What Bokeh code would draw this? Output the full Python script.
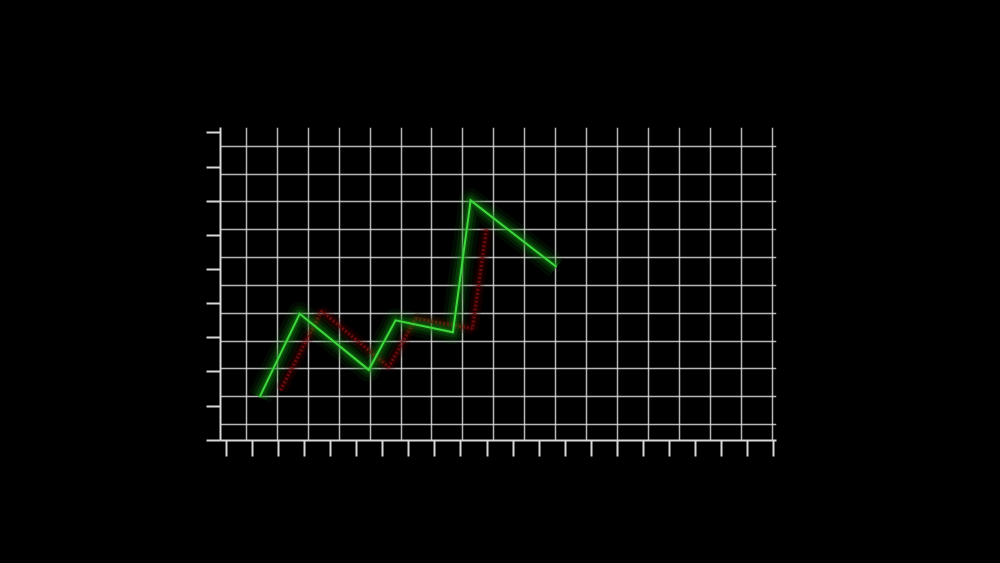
import numpy as np
from bokeh.plotting import figure
from bokeh.models import FixedTicker, Range1d, GlobalInlineStyleSheet
from bokeh.embed import file_html
from bokeh.resources import INLINE

# --- data (x in bottom-tick units, y in left-tick units) ---
green_x = [1.27, 2.81, 5.46, 6.49, 8.69, 9.37, 12.67]
green_y = [1.26, 3.70, 2.06, 3.51, 3.16, 7.02, 5.07]
red_x = [2.07, 3.65, 6.23, 7.26, 9.44, 9.98]
red_y = [1.46, 3.78, 2.14, 3.56, 3.27, 6.20]
x_ticks = list(range(0, 22))
y_ticks = list(range(0, 10))

# decorative grid (layout)
grid_x = list(np.linspace(0.756, 20.96, 18))
grid_y = list(np.linspace(8.609, 0.459, 11))

p = figure(width=984, height=547, output_backend="svg", toolbar_location=None,
           x_range=Range1d(-0.23, 21.11), y_range=Range1d(-0.009, 9.157),
           min_border_left=220, min_border_right=208, min_border_top=127,
           min_border_bottom=107, frame_width=556, frame_height=313)
p.stylesheets = [GlobalInlineStyleSheet(css="html, body { background: #000000; }")]
p.background_fill_color = "black"
p.border_fill_color = "black"
p.outline_line_color = None

# grid
p.xgrid.ticker = FixedTicker(ticks=grid_x)
p.ygrid.ticker = FixedTicker(ticks=grid_y)
p.xgrid.bounds = (0.08, 9.157)
p.ygrid.bounds = (0.05, 21.07)
for g in (p.xgrid, p.ygrid):
    g.grid_line_color = "#dedede"
    g.grid_line_width = 1.5
    g.grid_line_alpha = 0.82

# axes
p.xaxis.ticker = FixedTicker(ticks=x_ticks)
p.yaxis.ticker = FixedTicker(ticks=y_ticks)
for ax in (p.xaxis, p.yaxis):
    ax.axis_line_color = "#d8d8d8"
    ax.axis_line_width = 2
    ax.major_tick_line_color = "#d8d8d8"
    ax.major_tick_line_width = 2
    ax.major_tick_in = 0
    ax.minor_tick_line_color = None
    ax.major_label_text_font_size = "0px"
    ax.major_label_text_color = None
p.xaxis.major_tick_out = 16
p.yaxis.major_tick_out = 14

# red dotted trailing line with faint glow
p.line(red_x, red_y, line_color="#4a0000", line_width=12, line_alpha=0.22)
p.line(red_x, red_y, line_color="#5a0404", line_width=6, line_alpha=0.3)
p.line(red_x, red_y, line_color="#7a1010", line_width=3, line_alpha=0.8,
       line_dash="2 2")

# green glowing line
for w, a in ((24, 0.09), (16, 0.15), (10, 0.24), (5, 0.38)):
    p.line(green_x, green_y, line_color="#128a12", line_width=w, line_alpha=a,
           line_join="round")
p.line(green_x, green_y, line_color="#40d640", line_width=2, line_join="miter")

open("out.html", "w").write(file_html(p, INLINE))
